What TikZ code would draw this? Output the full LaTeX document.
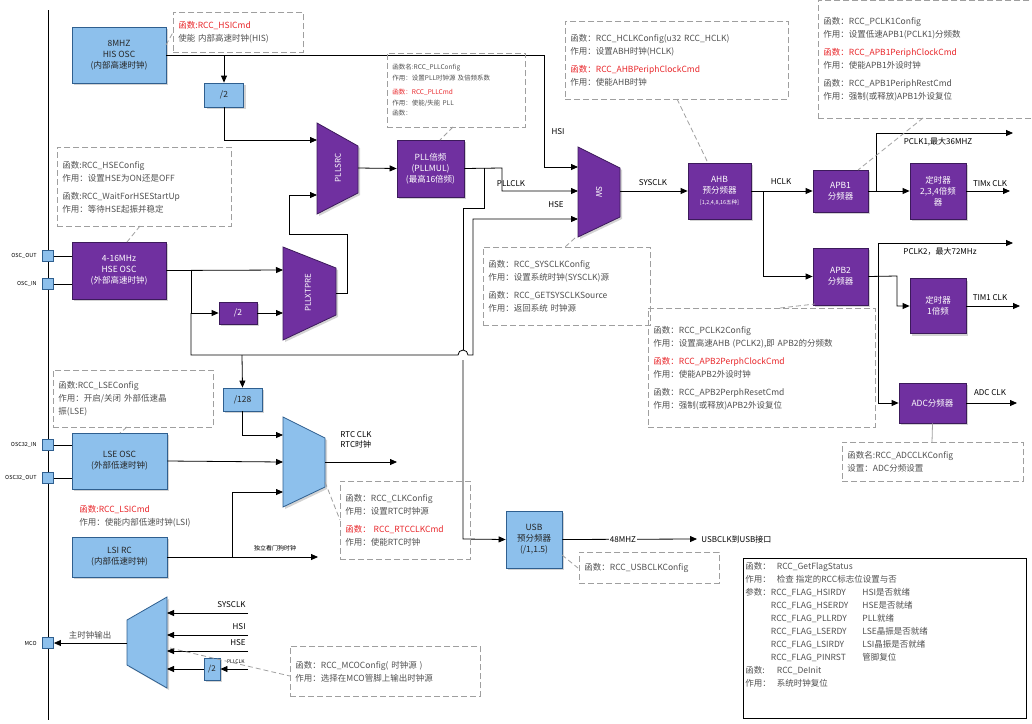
\documentclass[tikz,border=0pt]{standalone}
\usepackage{fontspec}
\setmainfont{Noto Sans CJK SC}
\usetikzlibrary{arrows.meta,positioning,shadows,calc}
\definecolor{pplfill}{HTML}{7030A0}
\definecolor{pplline}{HTML}{3C1A5B}
\definecolor{bluefill}{HTML}{8DC0EC}
\definecolor{blueline}{HTML}{2F5F8F}
\definecolor{notegray}{HTML}{505050}
\definecolor{notered}{HTML}{E8262A}
\tikzset{
  boxshadow/.style={drop shadow={opacity=0.35,shadow xshift=2pt,shadow yshift=-2pt}},
  ppl/.style={draw=pplline,fill=pplfill,text=white,boxshadow,align=center,
    font=\fontsize{8.5}{11}\selectfont,inner sep=0pt},
  blu/.style={draw=blueline,fill=bluefill,text=black!85,boxshadow,align=center,
    font=\fontsize{8.5}{11}\selectfont,inner sep=0pt},
  pplmux/.style={draw=pplline,fill=pplfill,boxshadow},
  blumux/.style={draw=blueline,fill=bluefill,boxshadow},
  pin/.style={draw=blueline,fill=bluefill,minimum size=11pt,inner sep=0pt},
  pinlbl/.style={font=\fontsize{5.5}{6}\selectfont,anchor=east,inner sep=1pt},
  note/.style={draw=gray!75,dash pattern=on 6pt off 3pt,text=notegray,align=left,
    anchor=north west,inner sep=5pt,font=\fontsize{8.5}{13}\selectfont},
  wire/.style={draw=black,-{Triangle[length=7pt,width=6pt]}},
  lead/.style={draw=gray!75,dash pattern=on 5pt off 3pt},
  lbl/.style={font=\fontsize{8}{10}\selectfont,inner sep=1pt}
}
\newcommand{\red}[1]{\textcolor{notered}{#1}}
\begin{document}
\begin{tikzpicture}[x=1pt,y=-1pt,line width=0.8pt]
\useasboundingbox (0,0) rectangle (1032,723);
% pin bus
\draw (48,10) -- (48,720);

% ---- HSI ----
\node[blu,minimum width=94pt,minimum height=56pt] (hsi) at (119,55) {8MHZ\\HIS OSC\\(内部高速时钟)};
\node[note,text width=120pt,minimum height=40pt] (hsinote) at (173,12)
  {\red{函数:RCC\_HSICmd}\\使能 内部高速时钟(HIS)};
\draw[lead] (166,45) -- (hsinote.west);
\node[blu,minimum width=39pt,minimum height=24pt] (hsidiv) at (224,95) {/2};
\coordinate (sw-hsi) at (578,167);
\draw[wire] (hsi.east) -- (544,55) -- (544,167) -- (sw-hsi);
\draw[wire] (224,55) -- (hsidiv.north);
\node[lbl] at (558,132) {HSI};

% ---- PLLSRC / PLL ----
\draw[pplmux] (317,123) -- (358,146) -- (358,193) -- (317,214) -- cycle;
\node[rotate=90,text=white,lbl] (pllsrc) at (338,168) {PLLSRC};
\coordinate (pllsrc-a) at (317,140);
\coordinate (pllsrc-b) at (317,195);
\coordinate (pllsrc-o) at (358,168);
\draw[wire] (hsidiv.south) |- (pllsrc-a);
\node[ppl,minimum width=67pt,minimum height=57pt] (pll) at (430.5,168.5) {PLL倍频\\(PLLMUL)\\(最高16倍频)};
\draw[wire] (pllsrc-o) -- (pll.west);
\node[note,text width=128pt,minimum height=74pt,font=\fontsize{6.5}{10.5}\selectfont] (pllnote) at (387,53)
  {函数名:RCC\_PLLConfig\\作用：设置PLL时钟源 及倍频系数\\[4pt]\red{函数：RCC\_PLLCmd}\\作用：使能/失能 PLL\\函数：};
\draw[lead] (453,127) -- (440,140);
\coordinate (sw-pll) at (578,191);
\draw[wire] (pll.east) -- (502,168) -- (502,191) -- (sw-pll);
\node[lbl] at (511,184) {PLLCLK};

% ---- HSE ----
\node[ppl,minimum width=94pt,minimum height=57pt] (hse) at (119,270.5) {4-16MHz\\HSE OSC\\(外部高速时钟)};
\node[pin] (oscout) at (48,256) {};
\node[pin] (oscin) at (48,284) {};
\node[pinlbl] at (38,256) {OSC\_OUT};
\node[pinlbl] at (38,284) {OSC\_IN};
\draw (oscout.east) -- (oscout -| hse.west);
\draw (oscin.east) -- (oscin -| hse.west);
\node[note,text width=164pt,minimum height=79pt] (hsenote) at (57,147)
  {函数:RCC\_HSEConfig\\作用：设置HSE为ON还是OFF\\[5pt]函数:RCC\_WaitForHSEStartUp\\作用：等待HSE起振并稳定};
\draw[lead] (140,226) -- (127,242);

% ---- PLLXTPRE ----
\draw[pplmux] (283,247) -- (336,268) -- (336,315) -- (283,340) -- cycle;
\node[rotate=90,text=white,lbl] (pllxtpre) at (308,293) {PLLXTPRE};
\node[ppl,minimum width=38pt,minimum height=22pt] (hsediv) at (238,313) {/2};
\draw[wire] (hse.east) -- (283,270);
\draw[wire] (191,270) -- (191,313) -- (hsediv.west);
\draw[wire] (hsediv.east) -- (283,313);
\draw[wire] (336,293) -- (347,293) -- (347,234) -- (289,234) -- (289,195) -- (pllsrc-b);
% HSE to SW, jumps the USB feed
\coordinate (sw-hse) at (578,219);
\draw[wire] (191,313) -- (191,355) -- (458,355) arc[start angle=180,end angle=360,radius=5]
  -- (473,355) -- (473,219) -- (sw-hse);
\node[lbl] at (556,205) {HSE};
\draw (484,168) -- (484,208) -- (463,208) -- (463,350);

% ---- SW / AHB ----
\draw[pplmux] (578,147) -- (620,168) -- (620,217) -- (578,237) -- cycle;
\node[rotate=-90,text=white,lbl] (sw) at (599,192) {SW};
\node[ppl,minimum width=63pt,minimum height=56pt] (ahb) at (719.5,191)
  {AHB\\预分频器\\{\fontsize{5.5}{7}\selectfont [1,2,4,8,16五种]}};
\draw[wire] (620,191) -- (ahb.west);
\node[lbl] at (653,183) {SYSCLK};
\node[note,text width=157pt,minimum height=78pt] (sysnote) at (483,247)
  {函数：RCC\_SYSCLKConfig\\作用：设置系统时钟(SYSCLK)源\\[5pt]函数：RCC\_GETSYSCLKSource\\作用：返回系统 时钟源};
\draw[lead] (575,238) -- (565,247);
\node[note,text width=213pt,minimum height=78pt] (hclknote) at (565,21)
  {函数：RCC\_HCLKConfig(u32 RCC\_HCLK)\\作用：设置ABH时钟(HCLK)\\[5pt]\red{函数：RCC\_AHBPeriphClockCmd}\\作用：使能AHB时钟};
\draw[lead] (677,99) -- (708,163);

% ---- APB1 / APB2 ----
\node[ppl,minimum width=55pt,minimum height=42pt] (apb1) at (840.5,191) {APB1\\分频器};
\node[ppl,minimum width=55pt,minimum height=57pt] (apb2) at (840.5,276.5) {APB2\\分频器};
\draw[wire] (ahb.east) -- (apb1.west);
\draw[wire] (763,191) |- (apb2.west);
\node[lbl] at (781,182) {HCLK};
\node[ppl,minimum width=56pt,minimum height=56pt] (tim1) at (938,191) {定时器\\2,3,4倍频\\器};
\node[ppl,minimum width=56pt,minimum height=55pt] (tim2) at (938,306) {定时器\\1倍频};
\node[ppl,minimum width=67pt,minimum height=40pt] (adc) at (932.5,403) {ADC分频器};
\coordinate (pclk1) at (1013,133);
\coordinate (pclk2) at (1013,243);
\coordinate (timx) at (1010,191);
\coordinate (tim1clk) at (1020,306);
\coordinate (adcclk) at (1017,403);
\draw[wire] (apb1.east) -- (tim1.west);
\draw[wire] (876,191) |- (pclk1);
\draw[wire] (tim1.east) -- (timx);
\draw[wire] (apb2.east) -- (897,276) |- (tim2.west);
\draw[wire] (878,276) |- (pclk2);
\draw[wire] (878,276) |- (adc.west);
\draw[wire] (tim2.east) -- (tim1clk);
\draw[wire] (adc.east) -- (adcclk);
\node[lbl] at (938,142) {PCLK1,最大36MHZ};
\node[lbl] at (990,184) {TIMx CLK};
\node[lbl] at (940,252) {PCLK2，最大72MHz};
\node[lbl] at (990,298) {TIM1 CLK};
\node[lbl] at (990,393) {ADC CLK};
\node[note,text width=212pt,minimum height=118pt] (apb1note) at (818,0)
  {函数：RCC\_PCLK1Config\\作用：设置低速APB1(PCLK1)分频数\\[5pt]\red{函数：RCC\_APB1PeriphClockCmd}\\作用：使能APB1外设时钟\\[5pt]函数：RCC\_APB1PeriphRestCmd\\作用：强制(或释放)APB1外设复位};
\draw[lead] (923,118) -- (858,170);
\node[note,text width=217pt,minimum height=119pt] (apb2note) at (648,308)
  {函数：RCC\_PCLK2Config\\作用：设置高速AHB (PCLK2),即 APB2的分频数\\[5pt]\red{函数：RCC\_APB2PerphClockCmd}\\作用：使能APB2外设时钟\\[5pt]函数：RCC\_APB2PerphResetCmd\\作用：强制(或释放)APB2外设复位};
\draw[lead] (780,308) -- (815,304);
\node[note,text width=171pt,minimum height=39pt] (adcnote) at (842,442)
  {函数名:RCC\_ADCCLKConfig\\设置：ADC分频设置};
\draw[gray!75] (adc.south) -- (932,442);

% ---- USB ----
\node[blu,minimum width=56pt,minimum height=57pt] (usb) at (534,539.5) {USB\\预分频器\\(/1,1.5)};
\draw[wire] (463,360) -- (463,539) -- (usb.west);
\coordinate (usbclk) at (697,539);
\draw[wire] (usb.east) -- node[lbl,fill=white,pos=0.45] {48MHZ} (usbclk);
\node[lbl,anchor=west] at (700,539) {USBCLK到USB接口};
\node[note,text width=130pt,minimum height=31pt] (usbnote) at (579,552) {函数：RCC\_USBCLKConfig};
\draw[lead] (562,555) -- (578,568);

% ---- LSE / LSI / RTC ----
\node[blu,minimum width=39pt,minimum height=23pt] (div128) at (242.5,399.5) {/128};
\draw[wire] (242,355) -- (div128.north);
\node[blu,minimum width=95pt,minimum height=56pt] (lse) at (119.5,461) {LSE OSC\\(外部低速时钟)};
\node[blu,minimum width=95pt,minimum height=40pt] (lsi) at (119.5,557) {LSI RC\\(内部低速时钟)};
\node[pin] (osc32in) at (48,445) {};
\node[pin] (osc32out) at (48,478) {};
\node[pinlbl] at (38,445) {OSC32\_IN};
\node[pinlbl] at (38,478) {OSC32\_OUT};
\draw (osc32in.east) -- (osc32in -| lse.west);
\draw (osc32out.east) -- (osc32out -| lse.west);
\node[note,text width=150pt,minimum height=57pt] (lsenote) at (53,370)
  {函数:RCC\_LSEConfig\\作用：开启/关闭 外部低速晶\\振(LSE)};
\draw[lead] (127,427) -- (120,433);
\node[lbl,anchor=west,align=left,text=notegray,font=\fontsize{8.5}{13}\selectfont] (lsitxt) at (78,516)
  {\red{函数:RCC\_LSICmd}\\作用：使能内部低速时钟(LSI)};
\draw[blumux] (283,417) -- (325,438) -- (325,487) -- (283,507) -- cycle;
\coordinate (rtcmux-o) at (325,462);
\coordinate (rtcclk) at (397,462);
\coordinate (iwdg) at (318,557);
\draw[wire] (div128.south) |- (283,435);
\draw[wire] (lse.east) -- (283,462);
\draw[wire] (lsi.east) -- (iwdg);
\draw[wire] (232,557) |- (283,492);
\draw[wire] (rtcmux-o) -- (rtcclk);
\node[lbl,align=left] at (356,440) {RTC CLK\\RTC时钟};
\node[lbl,font=\fontsize{6}{7}\selectfont] at (275,548) {独立看门狗时钟};
\node[note,text width=120pt,minimum height=78pt] (rtcnote) at (340,481)
  {函数：RCC\_CLKConfig\\作用：设置RTC时钟源\\[5pt]\red{函数： RCC\_RTCCLKCmd}\\作用：使能RTC时钟};
\draw[lead] (325,482) -- (340,520);

% ---- MCO ----
\draw[blumux] (127,620) -- (167,597) -- (167,688) -- (127,665) -- cycle;
\node[blu,minimum width=16pt,minimum height=22pt,font=\fontsize{8}{9}\selectfont] (mcodiv) at (212,669) {/2};
\coordinate (mco-sys) at (248,613);
\coordinate (mco-hsi) at (248,635);
\coordinate (mco-hse) at (248,651);
\coordinate (mco-pll) at (248,669);
\draw[wire] (mco-sys) -- (167,613);
\draw[wire] (mco-hsi) -- (167,635);
\draw[wire] (mco-hse) -- (167,651);
\draw[wire] (mco-pll) -- (mcodiv.east);
\draw[wire] (mcodiv.west) -- (167,669);
\node[lbl,anchor=east] at (247,605) {SYSCLK};
\node[lbl,anchor=east] at (247,627) {HSI};
\node[lbl,anchor=east] at (247,643) {HSE};
\node[lbl,anchor=east,font=\fontsize{5}{6}\selectfont] at (246,662) {PLLCLK};
\node[pin] (mco) at (48,643) {};
\node[pinlbl] at (38,643) {MCO};
\draw[wire] (127,643) -- (mco.east);
\node[lbl,text=notegray,font=\fontsize{8.5}{10}\selectfont] at (90,635) {主时钟输出};
\node[note,text width=180pt,minimum height=50pt] (mconote) at (290,646)
  {函数：RCC\_MCOConfig( 时钟源 )\\作用：选择在MCO管脚上输出时钟源};
\draw[lead] (170,648) -- (290,676);

% ---- flag status ----
\node[draw=black,anchor=north west,inner sep=2pt,text=notegray,
  font=\fontsize{8.5}{13}\selectfont] (flagbox) at (743,558)
  {\parbox[t][156pt][t]{279pt}{\begin{tabular}{@{}l@{}l@{\hspace{14pt}}l@{}}
  函数：&\multicolumn{2}{l}{RCC\_GetFlagStatus}\\
  作用：&\multicolumn{2}{l}{检查 指定的RCC标志位设置与否}\\
  参数：&RCC\_FLAG\_HSIRDY & HSI是否就绪\\
  &RCC\_FLAG\_HSERDY & HSE是否就绪\\
  &RCC\_FLAG\_PLLRDY & PLL就绪\\
  &RCC\_FLAG\_LSERDY & LSE晶振是否就绪\\
  &RCC\_FLAG\_LSIRDY & LSI晶振是否就绪\\
  &RCC\_FLAG\_PINRST & 管脚复位\\
  函数:&\multicolumn{2}{l}{RCC\_DeInit}\\
  作用：&\multicolumn{2}{l}{系统时钟复位}
  \end{tabular}}};
\end{tikzpicture}
\end{document}
